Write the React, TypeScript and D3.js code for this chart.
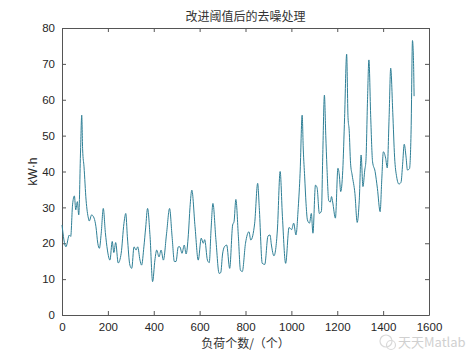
import React, { useEffect, useRef } from 'react';
import * as d3 from 'd3';

// load index (sample number) and denoised value (kW·h)
const loadIndex = [
  0, 17, 32, 38, 46, 54, 60, 67, 73, 81, 86, 90, 96, 105, 115, 119, 129, 140, 148, 156,
  163, 171, 180, 189, 198, 209, 219, 226, 234, 245, 258, 270, 278, 285, 296, 304, 314, 323, 330, 340,
  347, 357, 365, 373, 384, 395, 405, 413, 423, 432, 442, 456, 469, 480, 490, 497, 507, 514, 523, 533,
  541, 551, 558, 566, 580, 594, 607, 616, 622, 634, 642, 650, 658, 671, 685, 692, 700, 708, 718, 731,
  744, 750, 758, 769, 778, 786, 800, 815, 823, 840, 853, 860, 873, 884, 898, 907, 913, 924, 939, 951,
  961, 975, 990, 1001, 1010, 1020, 1030, 1038, 1047, 1052, 1058, 1064, 1070, 1079, 1087, 1094, 1105, 1112, 1122, 1131,
  1137, 1144, 1150, 1155, 1163, 1170, 1175, 1180, 1192, 1203, 1209, 1215, 1224, 1232, 1241, 1247, 1252, 1258, 1265, 1277,
  1287, 1296, 1304, 1312, 1320, 1325, 1332, 1338, 1346, 1354, 1365, 1375, 1387, 1394, 1401, 1411, 1418, 1426, 1433, 1442,
  1450, 1459, 1469, 1478, 1485, 1492, 1500, 1506, 1515, 1522, 1528, 1533, 1535,
];
const loadValue = [
  25.1, 19.0, 22.3, 21.9, 30.7, 33.2, 29.3, 31.6, 27.9, 46.0, 55.7, 46.0, 41.3, 32.0, 27.0, 26.2, 27.9, 27.0, 24.6, 20.0,
  18.6, 22.8, 29.7, 23.0, 18.1, 15.3, 20.5, 17.4, 20.2, 14.5, 17.2, 25.5, 28.3, 21.8, 13.9, 13.0, 19.0, 18.1, 19.0, 15.3,
  13.9, 19.0, 24.5, 29.7, 21.8, 9.3, 15.3, 18.1, 16.2, 18.1, 15.3, 22.8, 29.7, 21.8, 14.9, 14.9, 19.0, 19.0, 17.2, 19.5,
  17.0, 22.5, 30.0, 34.8, 24.6, 15.3, 21.4, 20.0, 21.0, 15.3, 14.6, 24.0, 31.1, 21.0, 11.6, 11.8, 17.0, 19.0, 19.5, 13.0,
  25.1, 26.0, 32.2, 21.8, 12.5, 12.1, 20.0, 23.2, 20.9, 25.6, 36.7, 30.0, 14.4, 14.1, 22.0, 22.3, 19.5, 16.5, 23.7, 40.0,
  27.4, 14.4, 24.4, 23.8, 25.6, 22.3, 30.0, 39.5, 55.7, 46.0, 38.5, 31.0, 26.5, 25.6, 28.3, 22.8, 36.2, 35.5, 28.3, 29.0,
  45.0, 61.3, 50.0, 41.3, 31.8, 31.5, 33.0, 31.5, 27.0, 40.9, 39.0, 34.4, 40.3, 55.0, 72.7, 55.0, 51.5, 42.3, 39.0, 33.9,
  25.8, 32.0, 44.6, 35.8, 40.4, 43.0, 60.0, 71.1, 55.0, 42.7, 40.0, 35.3, 28.8, 37.6, 45.5, 43.7, 41.0, 55.0, 68.8, 56.5,
  44.0, 38.5, 36.5, 37.0, 42.0, 47.6, 44.0, 40.4, 40.8, 51.6, 76.5, 69.2, 61.0,
];

const xTicks = [0, 200, 400, 600, 800, 1000, 1200, 1400, 1600];
const yTicks = [0, 10, 20, 30, 40, 50, 60, 70, 80];

const chartTitle = '改进阈值后的去噪处理';
const xLabel = '负荷个数/（个）';
const yLabel = 'kW·h';

const W = 474;
const H = 355;

export default function App() {
  const ref = useRef<SVGSVGElement>(null);

  useEffect(() => {
    if (!ref.current) return;
    const svg = d3.select(ref.current);
    svg.selectAll('*').remove();

    const margin = { top: 28, right: 45, bottom: 40, left: 62 };
    const width = W - margin.left - margin.right;
    const height = H - margin.top - margin.bottom;

    svg.append('rect').attr('width', W).attr('height', H).attr('fill', '#fff');

    const g = svg.append('g').attr('transform', `translate(${margin.left},${margin.top})`);

    const x = d3.scaleLinear().domain([0, 1600]).range([0, width]);
    const y = d3.scaleLinear().domain([0, 80]).range([height, 0]);

    const font = '"Liberation Sans", Arial, sans-serif';
    const axisColor = '#555';
    const plain = d3.format('d');

    // bottom / left axes with labels, ticks pointing inward like MATLAB
    const bottom = g.append('g')
      .attr('transform', `translate(0,${height})`)
      .call(d3.axisBottom(x).tickValues(xTicks).tickFormat(d => plain(d as number))
        .tickSize(-4).tickPadding(8).tickSizeOuter(0));
    const left = g.append('g')
      .call(d3.axisLeft(y).tickValues(yTicks).tickFormat(d => plain(d as number))
        .tickSize(-4).tickPadding(7).tickSizeOuter(0));
    // top / right box edges
    const top = g.append('g')
      .call(d3.axisTop(x).tickValues(xTicks).tickSize(-4).tickFormat(() => '').tickSizeOuter(0));
    const right = g.append('g')
      .attr('transform', `translate(${width},0)`)
      .call(d3.axisRight(y).tickValues(yTicks).tickSize(-4).tickFormat(() => '').tickSizeOuter(0));

    [bottom, left, top, right].forEach(a => {
      a.select('.domain').attr('stroke', axisColor).attr('stroke-width', 1);
      a.selectAll('.tick line').attr('stroke', axisColor);
      a.selectAll('.tick text')
        .attr('fill', '#262626')
        .style('font-family', font)
        .style('font-size', '11.5px');
    });

    const line = d3.line<number>()
      .x((_, i) => x(loadIndex[i]))
      .y(d => y(d))
      .curve(d3.curveMonotoneX);

    g.append('path')
      .datum(loadValue)
      .attr('fill', 'none')
      .attr('stroke', '#2f7f96')
      .attr('stroke-width', 1)
      .attr('d', line);

    // title and axis labels
    svg.append('text')
      .attr('x', margin.left + width / 2)
      .attr('y', 21)
      .attr('text-anchor', 'middle')
      .attr('fill', '#333')
      .style('font-family', '"Noto Sans CJK SC", sans-serif')
      .style('font-size', '12px')
      .text(chartTitle);

    svg.append('text')
      .attr('x', margin.left + width / 2)
      .attr('y', 348)
      .attr('text-anchor', 'middle')
      .attr('fill', '#333')
      .style('font-family', '"Noto Sans CJK SC", sans-serif')
      .style('font-size', '12px')
      .text(xLabel);

    svg.append('text')
      .attr('transform', `translate(37,${margin.top + height / 2}) rotate(-90)`)
      .attr('text-anchor', 'middle')
      .attr('fill', '#262626')
      .style('font-family', font)
      .style('font-size', '12px')
      .text(yLabel);

    // faint watermark at the bottom right, kept just below the tick labels
    const wm = svg.append('g').attr('opacity', 0.55);
    wm.append('circle').attr('cx', 386).attr('cy', 341).attr('r', 6)
      .attr('fill', 'none').attr('stroke', '#bbb').attr('stroke-width', 1.2);
    wm.append('circle').attr('cx', 391).attr('cy', 345).attr('r', 4.5)
      .attr('fill', 'none').attr('stroke', '#bbb').attr('stroke-width', 1.2);
    wm.append('text')
      .attr('x', 398)
      .attr('y', 347)
      .attr('fill', '#aaa')
      .style('font-family', '"Noto Sans CJK SC", sans-serif')
      .style('font-size', '13px')
      .text('天天Matlab');
  }, []);

  return (
    <svg
      ref={ref}
      width={W}
      height={H}
      style={{ position: 'absolute', left: 0, top: 0, display: 'block' }}
    />
  );
}
